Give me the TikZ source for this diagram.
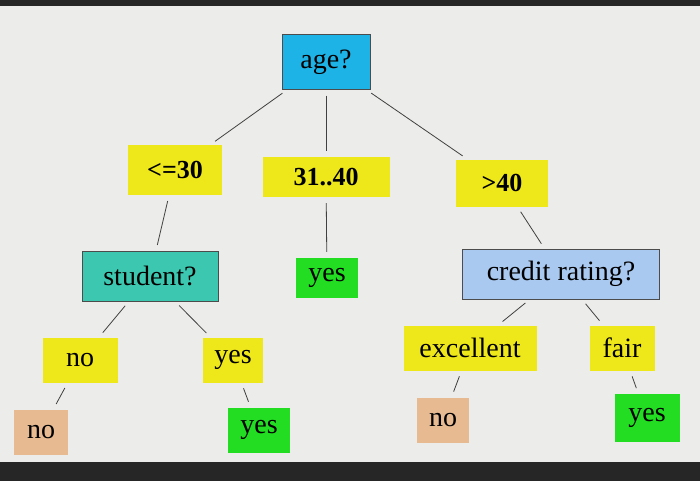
\documentclass[tikz,border=0pt]{standalone}
\usepackage{fontspec}
\setmainfont{Liberation Serif}
\definecolor{yel}{HTML}{EEE81A}
\definecolor{cyn}{HTML}{1DB3E6}
\definecolor{tea}{HTML}{3CC8B0}
\definecolor{lbl}{HTML}{A9C9F0}
\definecolor{grn}{HTML}{22DD22}
\definecolor{tan}{HTML}{E8BA92}
\definecolor{bg}{HTML}{ECECEA}
\begin{document}
\begin{tikzpicture}[x=1pt,y=-1pt,
  box/.style={font=\fontsize{28}{30}\selectfont, inner sep=0pt, anchor=center},
  bb/.style={box,font=\fontsize{26}{30}\selectfont\bfseries},
  edge/.style={draw=black!75, line width=0.8pt, shorten <=6pt, shorten >=6pt}]
\useasboundingbox (0,0) rectangle (700,481);
\fill[bg] (0,0) rectangle (700,481);
\fill[black!85] (0,0) rectangle (700,6);
\fill[black!85] (0,462) rectangle (700,481);
\node[box,fill=cyn,draw=black!70,minimum width=88pt,minimum height=55pt] (age) at (326,62) {age?};
\node[bb,fill=yel,minimum width=94pt,minimum height=50pt] (l30) at (175,170) {<=30};
\node[bb,fill=yel,minimum width=127pt,minimum height=40pt] (m) at (326,177) {31..40};
\node[bb,fill=yel,minimum width=92pt,minimum height=47pt] (g40) at (502,183) {>40};
\node[box,fill=tea,draw=black!70,minimum width=136pt,minimum height=50pt] (stu) at (150,276) {student?};
\node[box,fill=grn,minimum width=62pt,minimum height=40pt] (y1) at (327,278) {yes};
\node[box,fill=lbl,draw=black!70,minimum width=197pt,minimum height=50pt] (cr) at (561,274) {credit rating?};
\node[box,fill=yel,minimum width=75pt,minimum height=45pt] (sn) at (80,360) {no};
\node[box,fill=yel,minimum width=60pt,minimum height=45pt] (sy) at (233,360) {yes};
\node[box,fill=yel,minimum width=133pt,minimum height=45pt] (ex) at (470,348) {excellent};
\node[box,fill=yel,minimum width=65pt,minimum height=45pt] (fa) at (622,348) {fair};
\node[box,fill=tan,minimum width=54pt,minimum height=45pt] (n1) at (41,432) {no};
\node[box,fill=grn,minimum width=62pt,minimum height=45pt] (y2) at (259,430) {yes};
\node[box,fill=tan,minimum width=52pt,minimum height=45pt] (n2) at (443,420) {no};
\node[box,fill=grn,minimum width=65pt,minimum height=48pt] (y3) at (647,418) {yes};
\draw[edge] (age) -- (l30);
\draw[edge] (age) -- (m);
\draw[edge] (age) -- (g40);
\draw[edge] (l30) -- (stu);
\draw[edge] (m) -- (y1);
\draw[edge] (g40) -- (cr);
\draw[edge] (stu) -- (sn);
\draw[edge] (stu) -- (sy);
\draw[edge] (cr) -- (ex);
\draw[edge] (cr) -- (fa);
\draw[edge] (sn) -- (n1);
\draw[edge] (sy) -- (y2);
\draw[edge] (ex) -- (n2);
\draw[edge] (fa) -- (y3);
\end{tikzpicture}
\end{document}
